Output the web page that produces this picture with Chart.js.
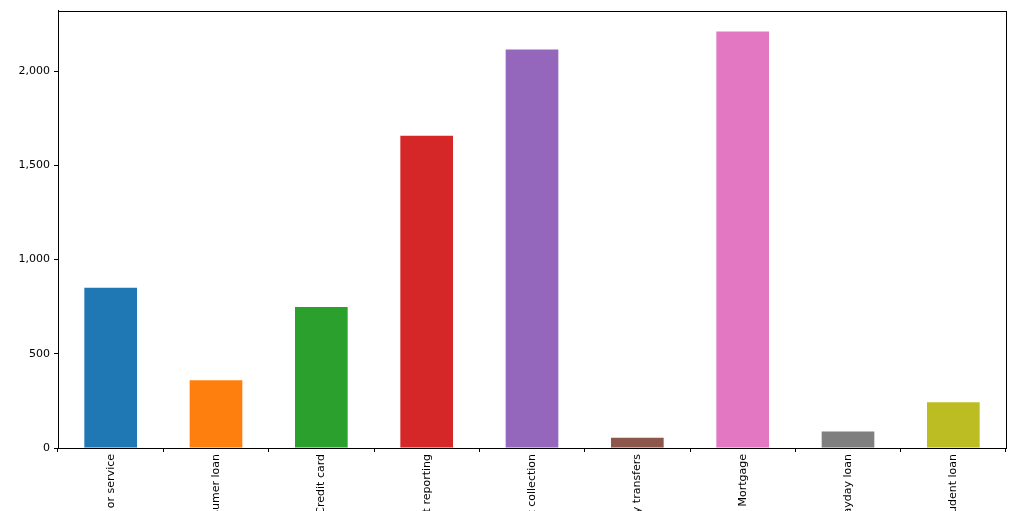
<!DOCTYPE html>
<html>
<head>
<meta charset="utf-8">
<script src="https://cdn.jsdelivr.net/npm/chart.js@4"></script>
<style>
html, body { margin: 0; padding: 0; background: #fff; overflow: hidden; width: 1024px; height: 511px; }
#wrap { width: 1024px; height: 650px; }
</style>
</head>
<body>
<div id="wrap"><canvas id="mycanvas"></canvas></div>
<script>
var categories = ['Bank account or service', 'Consumer loan', 'Credit card', 'Credit reporting',
  'Debt collection', 'Money transfers', 'Mortgage', 'Payday loan', 'Student loan'];
var counts = [850, 360, 748, 1657, 2115, 55, 2210, 88, 243];
var colors = ['#1f77b4', '#ff7f0e', '#2ca02c', '#d62728', '#9467bd', '#8c564b', '#e377c2', '#7f7f7f', '#bcbd22'];
var yTicks = [0, 500, 1000, 1500, 2000];

var frame = {
  id: 'frame',
  afterDraw: function(chart) {
    var a = chart.chartArea, c = chart.ctx;
    c.save();
    c.strokeStyle = '#000';
    c.lineWidth = 1;
    c.strokeRect(Math.round(a.left) + 0.5, Math.round(a.top) + 0.5, Math.round(a.right - a.left), Math.round(a.bottom - a.top));
    c.restore();
  }
};

new Chart(document.getElementById('mycanvas'), {
  type: 'bar',
  data: {
    labels: categories,
    datasets: [{ data: counts, backgroundColor: colors, barPercentage: 0.5, categoryPercentage: 1 }]
  },
  options: {
    responsive: true,
    maintainAspectRatio: false,
    animation: false,
    layout: { padding: { top: 7, right: 18, left: 0, bottom: 0 } },
    plugins: { legend: { display: false }, tooltip: { enabled: false } },
    scales: {
      x: {
        grid: { display: true, drawOnChartArea: false, drawTicks: true, tickLength: 4, color: '#000' },
        border: { display: true, color: '#000' },
        ticks: { color: '#000', font: { family: 'DejaVu Sans', size: 11 }, minRotation: 90, maxRotation: 90, autoSkip: false, padding: 2 },
        afterFit: function(s) { s.height = 650 - 448 - 7 + 7; }
      },
      y: {
        min: 0, max: 2321,
        afterBuildTicks: function(s) { s.ticks = yTicks.map(function(v) { return { value: v }; }); },
        grid: { display: true, drawOnChartArea: false, drawTicks: true, tickLength: 4, color: '#000' },
        border: { display: true, color: '#000' },
        ticks: { color: '#000', font: { family: 'DejaVu Sans', size: 11 }, padding: 4 },
        afterFit: function(s) { s.width = 58; }
      }
    }
  },
  plugins: [frame]
});
</script>
</body>
</html>
